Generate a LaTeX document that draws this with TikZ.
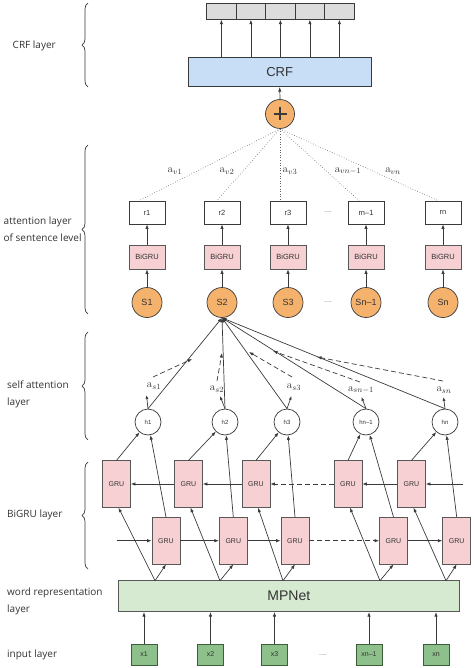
\documentclass[tikz,border=0pt]{standalone}
\usepackage{fontspec}
\setsansfont{Liberation Sans}
\newfontfamily\labelfont{Open Sans}
\usetikzlibrary{arrows.meta,decorations.pathreplacing,calc}

\definecolor{ln}{HTML}{3A3A3A}
\definecolor{cellgray}{HTML}{DCDCDC}
\definecolor{crfblue}{HTML}{C8DEF6}
\definecolor{orng}{HTML}{F5B26C}
\definecolor{pinkf}{HTML}{F6D0D3}
\definecolor{mpgreen}{HTML}{D6EAD2}
\definecolor{xgreen}{HTML}{8DC08A}
\definecolor{xdark}{HTML}{3E5E3B}
\definecolor{txt}{HTML}{333333}

\begin{document}
\begin{tikzpicture}[x=1pt,y=-1pt,
  every node/.style={font=\sffamily, text=txt, inner sep=0pt},
  arr/.style={draw=ln, line width=0.7pt, -{Latex[length=4.5pt,width=3.4pt]}},
  smallarr/.style={draw=ln, line width=0.7pt, -{Latex[length=4pt,width=3pt]}},
  dsh/.style={dash pattern=on 5pt off 3pt},
  dots/.style={draw=ln!80, line width=0.6pt, dotted},
  cell/.style={draw=ln, fill=cellgray, minimum width=29.5pt, minimum height=16pt, line width=0.7pt},
  crfbox/.style={draw=ln, fill=crfblue, minimum width=182.7pt, minimum height=29.4pt, line width=0.7pt, font=\sffamily\fontsize{13}{15}\selectfont},
  plusnode/.style={circle, draw=ln, fill=orng, minimum size=29pt, line width=0.7pt},
  rbox/.style={draw=ln, fill=white, minimum width=36pt, minimum height=23pt, line width=0.7pt, font=\sffamily\fontsize{7.5}{9}\selectfont},
  bigru/.style={draw=ln!85, fill=pinkf, minimum width=36pt, minimum height=24pt, line width=0.7pt, font=\sffamily\fontsize{7.5}{9}\selectfont},
  snode/.style={circle, draw=ln, fill=orng, minimum size=30pt, line width=0.7pt, font=\sffamily\fontsize{9}{11}\selectfont},
  hcirc/.style={circle, draw=ln, fill=white, minimum size=26pt, line width=0.7pt, font=\sffamily\fontsize{6}{7}\selectfont},
  grubox/.style={draw=ln!85, fill=pinkf, minimum width=28pt, minimum height=46.6pt, line width=0.7pt, font=\sffamily\fontsize{7}{8}\selectfont},
  mpbox/.style={draw=ln!85, fill=mpgreen, minimum width=341pt, minimum height=31pt, line width=0.7pt, font=\sffamily\fontsize{14}{16}\selectfont},
  xbox/.style={draw=xdark, fill=xgreen, minimum width=26pt, minimum height=21pt, line width=0.7pt, font=\sffamily\fontsize{7}{8}\selectfont},
  alabel/.style={font=\fontsize{11}{12}\selectfont},
  dotstxt/.style={text=ln!70, font=\sffamily\fontsize{7}{8}\selectfont},
  lefttxt/.style={anchor=west, align=left, font=\labelfont\fontsize{10}{17}\selectfont},
  brc/.style={draw=ln, line width=0.7pt, decorate, decoration={brace, amplitude=6pt}}
]
\useasboundingbox (0,0) rectangle (474,668);

% ---------- CRF layer ----------
\foreach \i in {1,...,5}
  \node[cell] (o\i) at ({221.4+29.5*(\i-1)},11.3) {};
\node[crfbox] (crf) at (279.7,72) {CRF};
\foreach \i in {1,...,5}
  \draw[arr] (crf.north -| o\i) -- (o\i.south);
\node[plusnode] (plus) at (280,114) {};
\draw[ln, line width=1.4pt] ($(plus.center)+(-6.5,0)$) -- ($(plus.center)+(6.5,0)$);
\draw[ln, line width=1.4pt] ($(plus.center)+(0,-6.5)$) -- ($(plus.center)+(0,6.5)$);
\draw[arr] (plus.north) -- (crf.south);

% ---------- sentence level ----------
\foreach \i/\x/\rt/\st in {1/147/r1/S1, 2/222/r2/S2, 3/288/r3/S3, 4/366/{rn\textendash1}/{Sn\textendash1}, 5/443/rn/Sn} {
  \node[rbox] (r\i) at (\x,212.5) {\rt};
  \node[bigru] (b\i) at (\x,257) {BiGRU};
  \node[snode] (s\i) at (\x,302.5) {\st};
  \draw[arr] (b\i.north) -- (r\i.south);
  \draw[arr] (s\i.north) -- (b\i.south);
}
\node[dotstxt] (dr) at (328,212) {....};
\node[dotstxt] (ds) at (328,302) {....};

\draw[dots] (plus.south) -- ([xshift=-8pt]r1.north);
\draw[dots] (plus.south) -- ([xshift=-5pt]r2.north);
\draw[dots] (plus.south) -- (plus.south |- r3.north);
\draw[dots] (plus.south) -- ([xshift=-7pt]r4.north);
\draw[dots] (plus.south) -- ([xshift=-5pt]r5.north);

\node[alabel] (av1) at (175,171) {$\mathrm{a}_{v1}$};
\node[alabel] (av2) at (227,171) {$\mathrm{a}_{v2}$};
\node[alabel] (av3) at (290,171) {$\mathrm{a}_{v3}$};
\node[alabel] (av4) at (348,171) {$\mathrm{a}_{vn-1}$};
\node[alabel] (av5) at (393,171) {$\mathrm{a}_{vn}$};

% ---------- self attention ----------
\foreach \i/\x/\t in {1/148/h1, 2/225/h2, 3/287/h3, 4/366/{hn\textendash1}, 5/445/hn}
  \node[hcirc] (h\i) at (\x,422) {\t};
\foreach \i in {1,...,5}
  \draw[arr] (h\i.north) -- (s2.south);

\node[alabel] (as1) at (154,386) {$\mathrm{a}_{s1}$};
\node[alabel] (as2) at (217,389) {$\mathrm{a}_{s2}$};
\node[alabel] (as3) at (294,387) {$\mathrm{a}_{s3}$};
\node[alabel] (as4) at (361,390) {$\mathrm{a}_{sn-1}$};
\node[alabel] (as5) at (444,390) {$\mathrm{a}_{sn}$};
\coordinate (t1) at (146.5,395);
\coordinate (t2) at (220,396);
\coordinate (t3) at (291.5,396);
\coordinate (t4) at (361.5,397);
\coordinate (t5) at (443.5,397);
\foreach \i in {1,...,5}
  \draw[smallarr] (h\i.north) -- (t\i);

\coordinate (d1a) at (153,377);  \coordinate (d1b) at (192,359);
\coordinate (d2a) at (217,381);  \coordinate (d2b) at (222,353);
\coordinate (d3a) at (292,377);  \coordinate (d3b) at (249,352);
\coordinate (d4a) at (360,382);  \coordinate (d4b) at (273,351);
\coordinate (d5a) at (443,381);  \coordinate (d5b) at (317,357);
\foreach \i in {1,...,5}
  \draw[arr, dsh] (d\i a) -- (d\i b);

% ---------- BiGRU layer ----------
\foreach \i/\x in {1/116.5, 2/188.5, 3/256, 4/348, 5/411.5}
  \node[grubox] (U\i) at (\x,484) {GRU};
\foreach \i/\x in {1/166, 2/233.3, 3/295, 4/393.5, 5/456.7}
  \node[grubox] (L\i) at (\x,540.7) {GRU};

\foreach \i in {1,...,5} {
  \draw[arr] (U\i.north) -- (h\i);
  \draw[arr] (L\i.north) -- (h\i);
}

\coordinate (lin) at (116.7,540.7);
\coordinate (uin) at (463,484);
\draw[arr] (lin) -- (L1.west);
\draw[arr] (L1) -- (L2);
\draw[arr] (L2) -- (L3);
\draw[arr, dsh] (L3) -- (L4);
\draw[arr] (L4) -- (L5);
\draw[arr] (uin) -- (U5.east);
\draw[arr] (U5) -- (U4);
\draw[arr, dsh] (U4) -- (U3);
\draw[arr] (U3) -- (U2);
\draw[arr] (U2) -- (U1);

% ---------- word representation ----------
\node[mpbox] (mp) at (288.8,596.2) {MPNet};
\foreach \i/\x in {1/155, 2/220, 3/283, 4/380, 5/446} {
  \coordinate (m\i) at (\x,580.7);
  \draw[arr] (m\i) -- ([xshift=2pt]U\i.south);
  \draw[arr] (m\i) -- (L\i.south);
}

% ---------- input layer ----------
\foreach \i/\x/\t in {1/144/x1, 2/210.5/x2, 3/274.5/x3, 4/369/{xn\textendash1}, 5/436/xn} {
  \node[xbox] (x\i) at (\x,654.5) {\t};
  \draw[arr] (x\i.north) -- (x\i.north |- mp.south);
}
\node[dotstxt] (dx) at (323,655) {....};

% ---------- left labels & braces ----------
\draw[brc] (88,87) -- (88,3);
\draw[brc] (88,314) -- (88,145);
\draw[brc] (88,440) -- (88,332);
\draw[brc] (88,569) -- (88,462);

\node[lefttxt] (l1) at (12.5,46) {CRF layer};
\node[lefttxt] (l2) at (3.5,229.5) {attention layer\\of sentence level};
\node[lefttxt] (l3) at (7,394.5) {self attention\\layer};
\node[lefttxt] (l4) at (7,514.5) {BiGRU layer};
\node[lefttxt] (l5) at (7,601) {word representation\\layer};
\node[lefttxt] (l6) at (7,654.5) {input layer};
\end{tikzpicture}
\end{document}
